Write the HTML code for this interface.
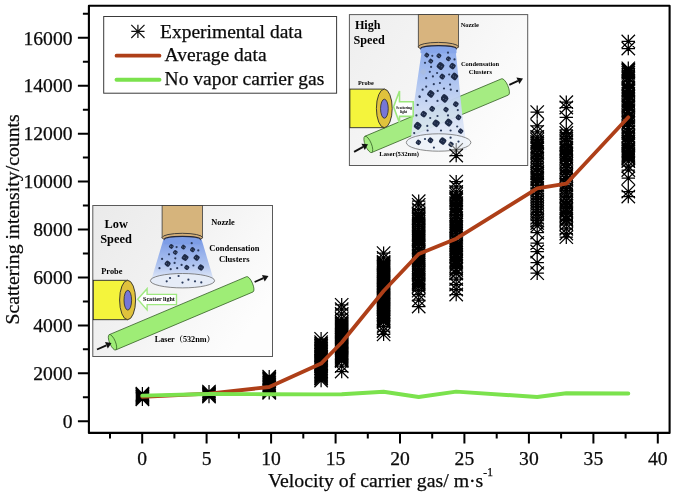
<!DOCTYPE html>
<html><head><meta charset="utf-8"><title>Scattering intensity vs velocity</title>
<style>html,body{margin:0;padding:0;background:#fff;}svg{display:block;}</style></head>
<body><svg width="675" height="495" viewBox="0 0 675 495">
<rect width="675" height="495" fill="#fff"/>
<defs>
<linearGradient id="bgL" x1="0" y1="0" x2="1" y2="0.6"><stop offset="0" stop-color="#eaeaea"/><stop offset="0.45" stop-color="#f1f1f1"/><stop offset="0.75" stop-color="#f8f8f8"/><stop offset="1" stop-color="#fdfdfd"/></linearGradient>
<linearGradient id="bgH" x1="0" y1="0" x2="1" y2="0.6"><stop offset="0" stop-color="#eeeeee"/><stop offset="0.45" stop-color="#f4f4f4"/><stop offset="0.75" stop-color="#f9f9f9"/><stop offset="1" stop-color="#fdfdfd"/></linearGradient>
<linearGradient id="sprL" x1="0" y1="0" x2="0" y2="1"><stop offset="0" stop-color="#7b9be6"/><stop offset="0.6" stop-color="#aec3ef"/><stop offset="1" stop-color="#e8eefa"/></linearGradient>
<linearGradient id="sprH" x1="0" y1="0" x2="0" y2="1"><stop offset="0" stop-color="#8eacec"/><stop offset="0.3" stop-color="#abc2f0"/><stop offset="0.6" stop-color="#ccd9f3" stop-opacity="0.94"/><stop offset="1" stop-color="#eef2fa" stop-opacity="0.9"/></linearGradient>
</defs>
<rect x="92.8" y="205.5" width="179.7" height="151" fill="url(#bgL)" stroke="#5a5a5a" stroke-width="1"/>
<text x="104.6" y="228.2" font-family="Liberation Serif, serif" font-weight="bold" font-size="12.4">Low</text>
<text x="100.2" y="243.2" font-family="Liberation Serif, serif" font-weight="bold" font-size="12.4">Speed</text>
<path d="M163.4 239.5 L201.6 239.5 L214 281 L151 281 Z" fill="url(#sprL)"/>
<rect x="162.1" y="205.5" width="40.3" height="32.3" fill="#d6b47c" stroke="#3a3a3a" stroke-width="0.8"/>
<ellipse cx="182.3" cy="237.6" rx="20.2" ry="4.3" fill="#d2ae78" stroke="#333" stroke-width="0.9"/>
<ellipse cx="182.4" cy="239.5" rx="18" ry="3.1" fill="#7d9de6" stroke="#22263a" stroke-width="1.1"/>
<rect x="164.2" y="239.6" width="36.4" height="4.6" fill="#7d9de6"/>
<ellipse cx="182.5" cy="280.7" rx="32.1" ry="7.2" fill="#e6ecf7" stroke="#6a6a6a" stroke-width="0.8"/>
<rect x="169.2" y="244.3" width="4.2" height="4.2" rx="1.3" transform="rotate(38 171.3 246.4)" fill="#1e2b48"/><circle cx="170.5" cy="246.2" r="0.45" fill="#8a9cc0"/><circle cx="172.1" cy="246.8" r="0.45" fill="#8a9cc0"/>
<rect x="181.3" y="245.0" width="4.2" height="4.2" rx="1.3" transform="rotate(38 183.4 247.1)" fill="#1e2b48"/><circle cx="182.6" cy="246.9" r="0.45" fill="#8a9cc0"/><circle cx="184.2" cy="247.5" r="0.45" fill="#8a9cc0"/>
<rect x="190.3" y="247.4" width="4.5" height="4.5" rx="1.4" transform="rotate(38 192.6 249.7)" fill="#1e2b48"/><circle cx="191.8" cy="249.4" r="0.45" fill="#8a9cc0"/><circle cx="193.4" cy="250.1" r="0.45" fill="#8a9cc0"/>
<rect x="173.2" y="250.3" width="4.2" height="4.2" rx="1.3" transform="rotate(38 175.3 252.4)" fill="#1e2b48"/><circle cx="174.5" cy="252.2" r="0.45" fill="#8a9cc0"/><circle cx="176.1" cy="252.8" r="0.45" fill="#8a9cc0"/>
<rect x="182.2" y="254.7" width="5.8" height="5.8" rx="1.7" transform="rotate(38 185.1 257.6)" fill="#1e2b48"/><circle cx="184.0" cy="257.3" r="0.45" fill="#8a9cc0"/><circle cx="186.2" cy="258.1" r="0.45" fill="#8a9cc0"/>
<rect x="194.0" y="255.0" width="5.3" height="5.3" rx="1.6" transform="rotate(38 196.6 257.6)" fill="#1e2b48"/><circle cx="195.6" cy="257.3" r="0.45" fill="#8a9cc0"/><circle cx="197.6" cy="258.1" r="0.45" fill="#8a9cc0"/>
<rect x="165.0" y="261.0" width="5.3" height="5.3" rx="1.6" transform="rotate(38 167.6 263.6)" fill="#1e2b48"/><circle cx="166.6" cy="263.3" r="0.45" fill="#8a9cc0"/><circle cx="168.6" cy="264.1" r="0.45" fill="#8a9cc0"/>
<rect x="184.5" y="265.2" width="4.5" height="4.5" rx="1.4" transform="rotate(38 186.8 267.5)" fill="#1e2b48"/><circle cx="186.0" cy="267.2" r="0.45" fill="#8a9cc0"/><circle cx="187.6" cy="267.9" r="0.45" fill="#8a9cc0"/>
<rect x="198.2" y="264.8" width="5.4" height="5.4" rx="1.6" transform="rotate(38 200.9 267.5)" fill="#1e2b48"/><circle cx="199.9" cy="267.2" r="0.45" fill="#8a9cc0"/><circle cx="201.9" cy="268.0" r="0.45" fill="#8a9cc0"/>
<circle cx="176.6" cy="247.1" r="1.1" fill="#2a3a5c"/>
<circle cx="198.3" cy="250.4" r="1.1" fill="#2a3a5c"/>
<circle cx="169.0" cy="254.3" r="1.1" fill="#2a3a5c"/>
<circle cx="175.3" cy="258.3" r="1.1" fill="#2a3a5c"/>
<circle cx="162.1" cy="258.9" r="1.1" fill="#2a3a5c"/>
<circle cx="174.6" cy="262.9" r="1.1" fill="#2a3a5c"/>
<circle cx="181.6" cy="264.9" r="1.1" fill="#2a3a5c"/>
<circle cx="193.4" cy="265.5" r="1.1" fill="#2a3a5c"/>
<circle cx="159.5" cy="268.2" r="1.1" fill="#2a3a5c"/>
<circle cx="170.7" cy="269.2" r="1.1" fill="#2a3a5c"/>
<circle cx="177.2" cy="268.2" r="1.1" fill="#2a3a5c"/>
<circle cx="178.6" cy="276.0" r="1.1" fill="#2a3a5c"/>
<circle cx="170.0" cy="278.0" r="1.1" fill="#2a3a5c"/>
<circle cx="166.7" cy="281.3" r="1.1" fill="#2a3a5c"/>
<circle cx="182.5" cy="282.6" r="1.1" fill="#2a3a5c"/>
<circle cx="188.4" cy="279.7" r="1.1" fill="#2a3a5c"/>
<circle cx="195.0" cy="281.3" r="1.1" fill="#2a3a5c"/>
<circle cx="201.3" cy="282.4" r="1.1" fill="#2a3a5c"/>
<circle cx="191.7" cy="243.2" r="1.1" fill="#2a3a5c"/>
<text x="211.3" y="224.7" font-family="Liberation Serif, serif" font-weight="bold" font-size="8.3">Nozzle</text>
<text x="209.3" y="250.5" font-family="Liberation Serif, serif" font-weight="bold" font-size="8.5">Condensation</text>
<text x="219" y="262" font-family="Liberation Serif, serif" font-weight="bold" font-size="8.6">Clusters</text>
<text x="101.3" y="273.5" font-family="Liberation Serif, serif" font-weight="bold" font-size="8.3">Probe</text>
<rect x="93.3" y="280.3" width="34.3" height="39.4" fill="#f4f43c" stroke="#2a2a2a" stroke-width="0.9"/>
<ellipse cx="127.6" cy="300" rx="8" ry="19.7" fill="#e0c23c" stroke="#2a2a2a" stroke-width="0.9"/>
<ellipse cx="127.8" cy="300.2" rx="3.8" ry="9.9" fill="#7676d6" stroke="#2a2a2a" stroke-width="0.8"/>
<path d="M137.7 299.3 L147.1 288.7 L147.1 294.4 L176.5 294.4 L176.5 304.6 L147.1 304.6 L147.1 309.9 Z" fill="#fff" stroke="#9fe880" stroke-width="1.4" stroke-linejoin="miter"/>
<text x="143" y="301.1" font-family="Liberation Serif, serif" font-weight="bold" font-size="6.1">Scatter light</text>
<g transform="translate(112.5 342.3) rotate(-22.90)"><path d="M0 -8.3 H149.0 A2.9050000000000002 8.3 0 0 1 149.0 8.3 H0 Z" fill="#9eed76" stroke="#2f5a1f" stroke-width="0.7"/><ellipse cx="0" cy="0" rx="2.9050000000000002" ry="8.3" fill="#9eed76" stroke="#2f5a1f" stroke-width="0.7"/></g>
<line x1="97.0" y1="349.5" x2="106.4" y2="345.3" stroke="#111" stroke-width="1.9"/><path d="M111.5 343.0L107.8 348.5L105.0 342.1Z" fill="#111"/>
<line x1="254.6" y1="282.0" x2="263.4" y2="278.2" stroke="#111" stroke-width="1.9"/><path d="M268.5 276.0L264.7 281.4L262.0 275.0Z" fill="#111"/>
<text x="154.7" y="342.1" font-family="Liberation Serif, Noto Serif CJK SC, serif" font-weight="bold" font-size="8.2">Laser（532nm）</text>
<rect x="349.4" y="14.6" width="178.3" height="150.9" fill="url(#bgH)" stroke="#5a5a5a" stroke-width="1"/>
<text x="354.9" y="28.8" font-family="Liberation Serif, serif" font-weight="bold" font-size="12.2">High</text>
<text x="353.5" y="44" font-family="Liberation Serif, serif" font-weight="bold" font-size="12.2">Speed</text>
<g transform="translate(368.3 144.4) rotate(-22.81)"><path d="M0 -8.8 H148.3 A3.08 8.8 0 0 1 148.3 8.8 H0 Z" fill="#a5ec82" stroke="#2f5a1f" stroke-width="0.7"/><ellipse cx="0" cy="0" rx="3.08" ry="8.8" fill="#a5ec82" stroke="#2f5a1f" stroke-width="0.7"/></g>
<path d="M422 49 L455.5 49 L462 112 L467 150 L410 150 L414.5 100 Z" fill="url(#sprH)"/>
<rect x="418.3" y="14.6" width="40.1" height="32.5" fill="#d8b47e" stroke="#3a3a3a" stroke-width="0.8"/>
<ellipse cx="438.35" cy="46.8" rx="20.05" ry="4.4" fill="#d2ae78" stroke="#333" stroke-width="0.9"/>
<ellipse cx="438.5" cy="48.7" rx="17.8" ry="3.1" fill="#86a6ea" stroke="#22263a" stroke-width="1.1"/>
<rect x="420.5" y="48.8" width="36" height="4.4" fill="#88a7ea"/>
<ellipse cx="438.6" cy="142.5" rx="32.3" ry="8.7" fill="#eef2f9" fill-opacity="0.8" stroke="#707070" stroke-width="0.8"/>
<rect x="420.7" y="69.3" width="5" height="5" rx="1.2" transform="rotate(40 423.2 71.8)" fill="#a9bde3"/>
<rect x="424.6" y="53.0" width="4.3" height="4.3" rx="1.3" transform="rotate(38 426.8 55.2)" fill="#1e2b48"/><circle cx="426.0" cy="55.0" r="0.45" fill="#8a9cc0"/><circle cx="427.6" cy="55.6" r="0.45" fill="#8a9cc0"/>
<rect x="436.7" y="53.6" width="4.3" height="4.3" rx="1.3" transform="rotate(38 438.9 55.8)" fill="#1e2b48"/><circle cx="438.1" cy="55.6" r="0.45" fill="#8a9cc0"/><circle cx="439.7" cy="56.2" r="0.45" fill="#8a9cc0"/>
<rect x="446.2" y="56.6" width="4.3" height="4.3" rx="1.3" transform="rotate(38 448.4 58.8)" fill="#1e2b48"/><circle cx="447.6" cy="58.6" r="0.45" fill="#8a9cc0"/><circle cx="449.2" cy="59.2" r="0.45" fill="#8a9cc0"/>
<rect x="428.6" y="59.0" width="4.3" height="4.3" rx="1.3" transform="rotate(38 430.8 61.2)" fill="#1e2b48"/><circle cx="430.0" cy="61.0" r="0.45" fill="#8a9cc0"/><circle cx="431.6" cy="61.6" r="0.45" fill="#8a9cc0"/>
<rect x="437.1" y="62.7" width="6.7" height="6.7" rx="2.0" transform="rotate(38 440.5 66.1)" fill="#1e2b48"/><circle cx="439.2" cy="65.7" r="0.45" fill="#8a9cc0"/><circle cx="441.8" cy="66.7" r="0.45" fill="#8a9cc0"/>
<rect x="449.7" y="63.3" width="5.6" height="5.6" rx="1.7" transform="rotate(38 452.5 66.1)" fill="#1e2b48"/><circle cx="451.4" cy="65.8" r="0.45" fill="#8a9cc0"/><circle cx="453.6" cy="66.6" r="0.45" fill="#8a9cc0"/>
<rect x="439.8" y="74.1" width="5.0" height="5.0" rx="1.5" transform="rotate(38 442.3 76.6)" fill="#1e2b48"/><circle cx="441.3" cy="76.3" r="0.45" fill="#8a9cc0"/><circle cx="443.3" cy="77.1" r="0.45" fill="#8a9cc0"/>
<rect x="451.3" y="73.2" width="6.4" height="6.4" rx="1.9" transform="rotate(38 454.5 76.4)" fill="#1e2b48"/><circle cx="453.3" cy="76.0" r="0.45" fill="#8a9cc0"/><circle cx="455.7" cy="77.0" r="0.45" fill="#8a9cc0"/>
<rect x="427.6" y="90.7" width="6.4" height="6.4" rx="1.9" transform="rotate(38 430.8 93.9)" fill="#1e2b48"/><circle cx="429.6" cy="93.5" r="0.45" fill="#8a9cc0"/><circle cx="432.0" cy="94.5" r="0.45" fill="#8a9cc0"/>
<rect x="441.4" y="94.6" width="6.0" height="6.0" rx="1.8" transform="rotate(38 444.4 97.6)" fill="#1e2b48"/><circle cx="443.3" cy="97.3" r="0.45" fill="#8a9cc0"/><circle cx="445.5" cy="98.2" r="0.45" fill="#8a9cc0"/>
<rect x="441.4" y="95.6" width="6.5" height="6.5" rx="2.0" transform="rotate(38 444.7 98.9)" fill="#1e2b48"/><circle cx="443.5" cy="98.5" r="0.45" fill="#8a9cc0"/><circle cx="445.9" cy="99.5" r="0.45" fill="#8a9cc0"/>
<rect x="453.3" y="101.7" width="5.0" height="5.0" rx="1.5" transform="rotate(38 455.8 104.2)" fill="#1e2b48"/><circle cx="454.8" cy="103.9" r="0.45" fill="#8a9cc0"/><circle cx="456.8" cy="104.7" r="0.45" fill="#8a9cc0"/>
<rect x="429.7" y="106.3" width="5.0" height="5.0" rx="1.5" transform="rotate(38 432.2 108.8)" fill="#1e2b48"/><circle cx="431.2" cy="108.5" r="0.45" fill="#8a9cc0"/><circle cx="433.2" cy="109.3" r="0.45" fill="#8a9cc0"/>
<rect x="443.7" y="107.2" width="4.7" height="4.7" rx="1.4" transform="rotate(38 446.0 109.5)" fill="#1e2b48"/><circle cx="445.1" cy="109.2" r="0.45" fill="#8a9cc0"/><circle cx="446.9" cy="109.9" r="0.45" fill="#8a9cc0"/>
<rect x="420.9" y="111.3" width="5.6" height="5.6" rx="1.7" transform="rotate(38 423.7 114.1)" fill="#1e2b48"/><circle cx="422.6" cy="113.8" r="0.45" fill="#8a9cc0"/><circle cx="424.8" cy="114.6" r="0.45" fill="#8a9cc0"/>
<rect x="456.0" y="114.8" width="5.0" height="5.0" rx="1.5" transform="rotate(38 458.5 117.3)" fill="#1e2b48"/><circle cx="457.5" cy="117.0" r="0.45" fill="#8a9cc0"/><circle cx="459.5" cy="117.8" r="0.45" fill="#8a9cc0"/>
<rect x="432.9" y="120.1" width="6.4" height="6.4" rx="1.9" transform="rotate(38 436.1 123.3)" fill="#1e2b48"/><circle cx="434.9" cy="122.9" r="0.45" fill="#8a9cc0"/><circle cx="437.3" cy="123.9" r="0.45" fill="#8a9cc0"/>
<rect x="445.2" y="119.2" width="6.7" height="6.7" rx="2.0" transform="rotate(38 448.6 122.6)" fill="#1e2b48"/><circle cx="447.3" cy="122.2" r="0.45" fill="#8a9cc0"/><circle cx="449.9" cy="123.2" r="0.45" fill="#8a9cc0"/>
<rect x="414.3" y="122.5" width="6.7" height="6.7" rx="2.0" transform="rotate(38 417.7 125.9)" fill="#1e2b48"/><circle cx="416.4" cy="125.5" r="0.45" fill="#8a9cc0"/><circle cx="419.0" cy="126.5" r="0.45" fill="#8a9cc0"/>
<rect x="458.4" y="128.8" width="4.7" height="4.7" rx="1.4" transform="rotate(38 460.7 131.1)" fill="#1e2b48"/><circle cx="459.8" cy="130.8" r="0.45" fill="#8a9cc0"/><circle cx="461.6" cy="131.5" r="0.45" fill="#8a9cc0"/>
<rect x="416.1" y="140.0" width="4.7" height="4.7" rx="1.4" transform="rotate(38 418.4 142.3)" fill="#1e2b48"/><circle cx="417.5" cy="142.0" r="0.45" fill="#8a9cc0"/><circle cx="419.3" cy="142.7" r="0.45" fill="#8a9cc0"/>
<rect x="428.0" y="137.8" width="5.0" height="5.0" rx="1.5" transform="rotate(38 430.5 140.3)" fill="#1e2b48"/><circle cx="429.5" cy="140.0" r="0.45" fill="#8a9cc0"/><circle cx="431.5" cy="140.8" r="0.45" fill="#8a9cc0"/>
<rect x="439.5" y="137.8" width="6.4" height="6.4" rx="1.9" transform="rotate(38 442.7 141.0)" fill="#1e2b48"/><circle cx="441.5" cy="140.6" r="0.45" fill="#8a9cc0"/><circle cx="443.9" cy="141.6" r="0.45" fill="#8a9cc0"/>
<rect x="448.7" y="142.0" width="4.7" height="4.7" rx="1.4" transform="rotate(38 451.0 144.3)" fill="#1e2b48"/><circle cx="450.1" cy="144.0" r="0.45" fill="#8a9cc0"/><circle cx="451.9" cy="144.7" r="0.45" fill="#8a9cc0"/>
<circle cx="432.3" cy="55.8" r="1.1" fill="#2a3a5c"/>
<circle cx="448.0" cy="52.7" r="1.1" fill="#2a3a5c"/>
<circle cx="454.5" cy="59.4" r="1.1" fill="#2a3a5c"/>
<circle cx="425.0" cy="62.8" r="1.1" fill="#2a3a5c"/>
<circle cx="431.1" cy="66.9" r="1.1" fill="#2a3a5c"/>
<circle cx="429.8" cy="71.8" r="1.1" fill="#2a3a5c"/>
<circle cx="437.1" cy="73.0" r="1.1" fill="#2a3a5c"/>
<circle cx="432.9" cy="76.4" r="1.1" fill="#2a3a5c"/>
<circle cx="426.2" cy="78.2" r="1.1" fill="#2a3a5c"/>
<circle cx="449.2" cy="74.5" r="1.1" fill="#2a3a5c"/>
<circle cx="433.8" cy="84.2" r="1.1" fill="#2a3a5c"/>
<circle cx="439.9" cy="83.0" r="1.1" fill="#2a3a5c"/>
<circle cx="450.1" cy="84.6" r="1.1" fill="#2a3a5c"/>
<circle cx="426.2" cy="86.7" r="1.1" fill="#2a3a5c"/>
<circle cx="444.0" cy="88.5" r="1.1" fill="#2a3a5c"/>
<circle cx="422.6" cy="89.7" r="1.1" fill="#2a3a5c"/>
<circle cx="437.7" cy="90.9" r="1.1" fill="#2a3a5c"/>
<circle cx="450.8" cy="89.7" r="1.1" fill="#2a3a5c"/>
<circle cx="457.1" cy="90.9" r="1.1" fill="#2a3a5c"/>
<circle cx="419.5" cy="96.4" r="1.1" fill="#2a3a5c"/>
<circle cx="419.7" cy="97.0" r="1.1" fill="#2a3a5c"/>
<circle cx="426.3" cy="100.9" r="1.1" fill="#2a3a5c"/>
<circle cx="437.5" cy="100.9" r="1.1" fill="#2a3a5c"/>
<circle cx="417.7" cy="104.9" r="1.1" fill="#2a3a5c"/>
<circle cx="457.8" cy="110.1" r="1.1" fill="#2a3a5c"/>
<circle cx="416.4" cy="115.4" r="1.1" fill="#2a3a5c"/>
<circle cx="430.2" cy="118.0" r="1.1" fill="#2a3a5c"/>
<circle cx="437.5" cy="116.0" r="1.1" fill="#2a3a5c"/>
<circle cx="448.0" cy="115.4" r="1.1" fill="#2a3a5c"/>
<circle cx="427.3" cy="125.9" r="1.1" fill="#2a3a5c"/>
<circle cx="457.2" cy="126.5" r="1.1" fill="#2a3a5c"/>
<circle cx="427.6" cy="130.5" r="1.1" fill="#2a3a5c"/>
<circle cx="441.0" cy="130.5" r="1.1" fill="#2a3a5c"/>
<circle cx="450.6" cy="130.5" r="1.1" fill="#2a3a5c"/>
<circle cx="414.2" cy="133.1" r="1.1" fill="#2a3a5c"/>
<circle cx="425.0" cy="139.0" r="1.1" fill="#2a3a5c"/>
<circle cx="450.6" cy="137.7" r="1.1" fill="#2a3a5c"/>
<circle cx="458.5" cy="141.6" r="1.1" fill="#2a3a5c"/>
<circle cx="433.9" cy="147.6" r="1.1" fill="#2a3a5c"/>
<text x="460.7" y="27" font-family="Liberation Serif, serif" font-weight="bold" font-size="6.4">Nozzle</text>
<text x="460.9" y="66.2" font-family="Liberation Serif, serif" font-weight="bold" font-size="6.5">Condensation</text>
<text x="468.8" y="74.1" font-family="Liberation Serif, serif" font-weight="bold" font-size="6.5">Clusters</text>
<text x="358.1" y="84.5" font-family="Liberation Serif, serif" font-weight="bold" font-size="6.2">Probe</text>
<rect x="349.9" y="89.1" width="34.4" height="38.6" fill="#f4f43c" stroke="#2a2a2a" stroke-width="0.9"/>
<ellipse cx="384.3" cy="108.4" rx="7.9" ry="19.3" fill="#e0c23c" stroke="#2a2a2a" stroke-width="0.9"/>
<ellipse cx="384.4" cy="108.7" rx="3.85" ry="9.5" fill="#7676d6" stroke="#2a2a2a" stroke-width="0.8"/>
<path d="M393.6 106.8 L399.5 91 L399.5 101.8 L413.2 101.8 L413.2 116.4 L399.5 116.4 L399.5 123 Z" fill="#fff" stroke="#9ce77c" stroke-width="1.6"/>
<text x="396.1" y="108.8" font-family="Liberation Serif, serif" font-weight="bold" font-size="3.6">Scattering</text>
<text x="400" y="113.2" font-family="Liberation Serif, serif" font-weight="bold" font-size="3.6">light</text>
<line x1="354.1" y1="151.8" x2="363.1" y2="146.9" stroke="#111" stroke-width="1.9"/><path d="M368.0 144.2L364.8 150.0L361.4 143.8Z" fill="#111"/>
<line x1="509.3" y1="84.8" x2="517.9" y2="80.8" stroke="#111" stroke-width="1.9"/><path d="M523.0 78.4L519.4 83.9L516.4 77.6Z" fill="#111"/>
<text x="379.3" y="155.9" font-family="Liberation Serif, serif" font-weight="bold" font-size="6.6">Laser(532nm)</text>
<rect x="103.7" y="16.5" width="232.9" height="76.7" fill="#fff" stroke="#3a3a3a" stroke-width="1"/>
<path d="M131.3 31.4h13.2M137.9 24.8v13.2M131.3 24.8l13.2 13.2M131.3 38.0l13.2 -13.2" stroke="#111" stroke-width="1.2" fill="none"/>
<line x1="116.5" y1="55.7" x2="159.5" y2="55.7" stroke="#ae3f18" stroke-width="3.7" stroke-linecap="round"/>
<line x1="116.5" y1="79.7" x2="159.5" y2="79.7" stroke="#7be24d" stroke-width="3.9" stroke-linecap="round"/>
<text x="160" y="37.6" font-family="Liberation Serif, serif" font-size="19.5" fill="#0a0a0a" stroke="#0a0a0a" stroke-width="0.25">Experimental data</text>
<text x="164.6" y="61.3" font-family="Liberation Serif, serif" font-size="19.5" fill="#0a0a0a" stroke="#0a0a0a" stroke-width="0.25">Average data</text>
<text x="164.6" y="85.3" font-family="Liberation Serif, serif" font-size="19.5" fill="#0a0a0a" stroke="#0a0a0a" stroke-width="0.25">No vapor carrier gas</text>
<path d="M449.5 149.8h13.4M456.2 143.1v13.4M449.5 143.1l13.4 13.4M449.5 156.5l13.4 -13.4" stroke="#777" stroke-width="1.1" fill="none"/>
<path d="M135.7 393.7h13.4M142.4 387.0v13.4M135.7 387.0l13.4 13.4M135.7 400.4l13.4 -13.4M135.7 394.6h13.4M142.4 387.9v13.4M135.7 387.9l13.4 13.4M135.7 401.3l13.4 -13.4M135.7 395.3h13.4M142.4 388.6v13.4M135.7 388.6l13.4 13.4M135.7 402.0l13.4 -13.4M135.7 396.4h13.4M142.4 389.7v13.4M135.7 389.7l13.4 13.4M135.7 403.1l13.4 -13.4M135.7 397.1h13.4M142.4 390.4v13.4M135.7 390.4l13.4 13.4M135.7 403.8l13.4 -13.4M135.7 398.1h13.4M142.4 391.4v13.4M135.7 391.4l13.4 13.4M135.7 404.8l13.4 -13.4M135.7 398.9h13.4M142.4 392.2v13.4M135.7 392.2l13.4 13.4M135.7 405.6l13.4 -13.4M135.7 399.3h13.4M142.4 392.6v13.4M135.7 392.6l13.4 13.4M135.7 406.0l13.4 -13.4M202.3 391.6h13.4M209.0 384.9v13.4M202.3 384.9l13.4 13.4M202.3 398.3l13.4 -13.4M202.3 392.6h13.4M209.0 385.9v13.4M202.3 385.9l13.4 13.4M202.3 399.3l13.4 -13.4M202.3 393.3h13.4M209.0 386.6v13.4M202.3 386.6l13.4 13.4M202.3 400.0l13.4 -13.4M202.3 394.2h13.4M209.0 387.5v13.4M202.3 387.5l13.4 13.4M202.3 400.9l13.4 -13.4M202.3 394.9h13.4M209.0 388.2v13.4M202.3 388.2l13.4 13.4M202.3 401.6l13.4 -13.4M202.3 395.7h13.4M209.0 389.0v13.4M202.3 389.0l13.4 13.4M202.3 402.4l13.4 -13.4M202.3 396.5h13.4M209.0 389.8v13.4M202.3 389.8l13.4 13.4M202.3 403.2l13.4 -13.4M262.5 376.7h13.4M269.2 370.0v13.4M262.5 370.0l13.4 13.4M262.5 383.4l13.4 -13.4M262.5 378.2h13.4M269.2 371.5v13.4M262.5 371.5l13.4 13.4M262.5 384.9l13.4 -13.4M262.5 379.1h13.4M269.2 372.4v13.4M262.5 372.4l13.4 13.4M262.5 385.8l13.4 -13.4M262.5 380.0h13.4M269.2 373.3v13.4M262.5 373.3l13.4 13.4M262.5 386.7l13.4 -13.4M262.5 381.3h13.4M269.2 374.6v13.4M262.5 374.6l13.4 13.4M262.5 388.0l13.4 -13.4M262.5 382.9h13.4M269.2 376.2v13.4M262.5 376.2l13.4 13.4M262.5 389.6l13.4 -13.4M262.5 384.2h13.4M269.2 377.5v13.4M262.5 377.5l13.4 13.4M262.5 390.9l13.4 -13.4M262.5 385.3h13.4M269.2 378.6v13.4M262.5 378.6l13.4 13.4M262.5 392.0l13.4 -13.4M262.5 386.9h13.4M269.2 380.2v13.4M262.5 380.2l13.4 13.4M262.5 393.6l13.4 -13.4M262.5 387.7h13.4M269.2 381.0v13.4M262.5 381.0l13.4 13.4M262.5 394.4l13.4 -13.4M262.5 389.2h13.4M269.2 382.5v13.4M262.5 382.5l13.4 13.4M262.5 395.9l13.4 -13.4M262.5 390.2h13.4M269.2 383.5v13.4M262.5 383.5l13.4 13.4M262.5 396.9l13.4 -13.4M262.5 391.1h13.4M269.2 384.4v13.4M262.5 384.4l13.4 13.4M262.5 397.8l13.4 -13.4M262.5 392.0h13.4M269.2 385.3v13.4M262.5 385.3l13.4 13.4M262.5 398.7l13.4 -13.4M262.5 392.8h13.4M269.2 386.1v13.4M262.5 386.1l13.4 13.4M262.5 399.5l13.4 -13.4M314.4 338.8h13.4M321.1 332.1v13.4M314.4 332.1l13.4 13.4M314.4 345.5l13.4 -13.4M314.4 342.2h13.4M321.1 335.5v13.4M314.4 335.5l13.4 13.4M314.4 348.9l13.4 -13.4M314.4 344.0h13.4M321.1 337.3v13.4M314.4 337.3l13.4 13.4M314.4 350.7l13.4 -13.4M314.4 345.3h13.4M321.1 338.6v13.4M314.4 338.6l13.4 13.4M314.4 352.0l13.4 -13.4M314.4 346.0h13.4M321.1 339.3v13.4M314.4 339.3l13.4 13.4M314.4 352.7l13.4 -13.4M314.4 347.1h13.4M321.1 340.4v13.4M314.4 340.4l13.4 13.4M314.4 353.8l13.4 -13.4M314.4 348.2h13.4M321.1 341.5v13.4M314.4 341.5l13.4 13.4M314.4 354.9l13.4 -13.4M314.4 349.1h13.4M321.1 342.4v13.4M314.4 342.4l13.4 13.4M314.4 355.8l13.4 -13.4M314.4 350.1h13.4M321.1 343.4v13.4M314.4 343.4l13.4 13.4M314.4 356.8l13.4 -13.4M314.4 350.8h13.4M321.1 344.1v13.4M314.4 344.1l13.4 13.4M314.4 357.5l13.4 -13.4M314.4 351.4h13.4M321.1 344.7v13.4M314.4 344.7l13.4 13.4M314.4 358.1l13.4 -13.4M314.4 352.2h13.4M321.1 345.5v13.4M314.4 345.5l13.4 13.4M314.4 358.9l13.4 -13.4M314.4 353.3h13.4M321.1 346.6v13.4M314.4 346.6l13.4 13.4M314.4 360.0l13.4 -13.4M314.4 354.3h13.4M321.1 347.6v13.4M314.4 347.6l13.4 13.4M314.4 361.0l13.4 -13.4M314.4 355.1h13.4M321.1 348.4v13.4M314.4 348.4l13.4 13.4M314.4 361.8l13.4 -13.4M314.4 356.2h13.4M321.1 349.5v13.4M314.4 349.5l13.4 13.4M314.4 362.9l13.4 -13.4M314.4 357.1h13.4M321.1 350.4v13.4M314.4 350.4l13.4 13.4M314.4 363.8l13.4 -13.4M314.4 358.0h13.4M321.1 351.3v13.4M314.4 351.3l13.4 13.4M314.4 364.7l13.4 -13.4M314.4 359.2h13.4M321.1 352.5v13.4M314.4 352.5l13.4 13.4M314.4 365.9l13.4 -13.4M314.4 360.4h13.4M321.1 353.7v13.4M314.4 353.7l13.4 13.4M314.4 367.1l13.4 -13.4M314.4 361.2h13.4M321.1 354.5v13.4M314.4 354.5l13.4 13.4M314.4 367.9l13.4 -13.4M314.4 362.2h13.4M321.1 355.5v13.4M314.4 355.5l13.4 13.4M314.4 368.9l13.4 -13.4M314.4 363.3h13.4M321.1 356.6v13.4M314.4 356.6l13.4 13.4M314.4 370.0l13.4 -13.4M314.4 364.6h13.4M321.1 357.9v13.4M314.4 357.9l13.4 13.4M314.4 371.3l13.4 -13.4M314.4 365.7h13.4M321.1 359.0v13.4M314.4 359.0l13.4 13.4M314.4 372.4l13.4 -13.4M314.4 366.6h13.4M321.1 359.9v13.4M314.4 359.9l13.4 13.4M314.4 373.3l13.4 -13.4M314.4 367.9h13.4M321.1 361.2v13.4M314.4 361.2l13.4 13.4M314.4 374.6l13.4 -13.4M314.4 368.6h13.4M321.1 361.9v13.4M314.4 361.9l13.4 13.4M314.4 375.3l13.4 -13.4M314.4 369.6h13.4M321.1 362.9v13.4M314.4 362.9l13.4 13.4M314.4 376.3l13.4 -13.4M314.4 370.8h13.4M321.1 364.1v13.4M314.4 364.1l13.4 13.4M314.4 377.5l13.4 -13.4M314.4 371.5h13.4M321.1 364.8v13.4M314.4 364.8l13.4 13.4M314.4 378.2l13.4 -13.4M314.4 372.5h13.4M321.1 365.8v13.4M314.4 365.8l13.4 13.4M314.4 379.2l13.4 -13.4M314.4 373.1h13.4M321.1 366.4v13.4M314.4 366.4l13.4 13.4M314.4 379.8l13.4 -13.4M314.4 374.3h13.4M321.1 367.6v13.4M314.4 367.6l13.4 13.4M314.4 381.0l13.4 -13.4M314.4 375.5h13.4M321.1 368.8v13.4M314.4 368.8l13.4 13.4M314.4 382.2l13.4 -13.4M314.4 376.5h13.4M321.1 369.8v13.4M314.4 369.8l13.4 13.4M314.4 383.2l13.4 -13.4M314.4 377.8h13.4M321.1 371.1v13.4M314.4 371.1l13.4 13.4M314.4 384.5l13.4 -13.4M314.4 378.5h13.4M321.1 371.8v13.4M314.4 371.8l13.4 13.4M314.4 385.2l13.4 -13.4M314.4 380.5h13.4M321.1 373.8v13.4M314.4 373.8l13.4 13.4M314.4 387.2l13.4 -13.4M335.0 304.8h13.4M341.7 298.1v13.4M335.0 298.1l13.4 13.4M335.0 311.5l13.4 -13.4M335.0 309.2h13.4M341.7 302.5v13.4M335.0 302.5l13.4 13.4M335.0 315.9l13.4 -13.4M335.0 314.0h13.4M341.7 307.3v13.4M335.0 307.3l13.4 13.4M335.0 320.7l13.4 -13.4M335.0 318.8h13.4M341.7 312.1v13.4M335.0 312.1l13.4 13.4M335.0 325.5l13.4 -13.4M335.0 322.0h13.4M341.7 315.3v13.4M335.0 315.3l13.4 13.4M335.0 328.7l13.4 -13.4M335.0 323.2h13.4M341.7 316.5v13.4M335.0 316.5l13.4 13.4M335.0 329.9l13.4 -13.4M335.0 324.2h13.4M341.7 317.5v13.4M335.0 317.5l13.4 13.4M335.0 330.9l13.4 -13.4M335.0 325.3h13.4M341.7 318.6v13.4M335.0 318.6l13.4 13.4M335.0 332.0l13.4 -13.4M335.0 326.3h13.4M341.7 319.6v13.4M335.0 319.6l13.4 13.4M335.0 333.0l13.4 -13.4M335.0 327.5h13.4M341.7 320.8v13.4M335.0 320.8l13.4 13.4M335.0 334.2l13.4 -13.4M335.0 328.9h13.4M341.7 322.2v13.4M335.0 322.2l13.4 13.4M335.0 335.6l13.4 -13.4M335.0 329.9h13.4M341.7 323.2v13.4M335.0 323.2l13.4 13.4M335.0 336.6l13.4 -13.4M335.0 331.0h13.4M341.7 324.3v13.4M335.0 324.3l13.4 13.4M335.0 337.7l13.4 -13.4M335.0 331.6h13.4M341.7 324.9v13.4M335.0 324.9l13.4 13.4M335.0 338.3l13.4 -13.4M335.0 332.8h13.4M341.7 326.1v13.4M335.0 326.1l13.4 13.4M335.0 339.5l13.4 -13.4M335.0 333.9h13.4M341.7 327.2v13.4M335.0 327.2l13.4 13.4M335.0 340.6l13.4 -13.4M335.0 335.3h13.4M341.7 328.6v13.4M335.0 328.6l13.4 13.4M335.0 342.0l13.4 -13.4M335.0 336.6h13.4M341.7 329.9v13.4M335.0 329.9l13.4 13.4M335.0 343.3l13.4 -13.4M335.0 337.4h13.4M341.7 330.7v13.4M335.0 330.7l13.4 13.4M335.0 344.1l13.4 -13.4M335.0 338.3h13.4M341.7 331.6v13.4M335.0 331.6l13.4 13.4M335.0 345.0l13.4 -13.4M335.0 339.4h13.4M341.7 332.7v13.4M335.0 332.7l13.4 13.4M335.0 346.1l13.4 -13.4M335.0 340.1h13.4M341.7 333.4v13.4M335.0 333.4l13.4 13.4M335.0 346.8l13.4 -13.4M335.0 341.0h13.4M341.7 334.3v13.4M335.0 334.3l13.4 13.4M335.0 347.7l13.4 -13.4M335.0 341.8h13.4M341.7 335.1v13.4M335.0 335.1l13.4 13.4M335.0 348.5l13.4 -13.4M335.0 342.5h13.4M341.7 335.8v13.4M335.0 335.8l13.4 13.4M335.0 349.2l13.4 -13.4M335.0 343.1h13.4M341.7 336.4v13.4M335.0 336.4l13.4 13.4M335.0 349.8l13.4 -13.4M335.0 344.3h13.4M341.7 337.6v13.4M335.0 337.6l13.4 13.4M335.0 351.0l13.4 -13.4M335.0 345.0h13.4M341.7 338.3v13.4M335.0 338.3l13.4 13.4M335.0 351.7l13.4 -13.4M335.0 345.8h13.4M341.7 339.1v13.4M335.0 339.1l13.4 13.4M335.0 352.5l13.4 -13.4M335.0 346.7h13.4M341.7 340.0v13.4M335.0 340.0l13.4 13.4M335.0 353.4l13.4 -13.4M335.0 348.0h13.4M341.7 341.3v13.4M335.0 341.3l13.4 13.4M335.0 354.7l13.4 -13.4M335.0 348.7h13.4M341.7 342.0v13.4M335.0 342.0l13.4 13.4M335.0 355.4l13.4 -13.4M335.0 349.7h13.4M341.7 343.0v13.4M335.0 343.0l13.4 13.4M335.0 356.4l13.4 -13.4M335.0 350.7h13.4M341.7 344.0v13.4M335.0 344.0l13.4 13.4M335.0 357.4l13.4 -13.4M335.0 352.0h13.4M341.7 345.3v13.4M335.0 345.3l13.4 13.4M335.0 358.7l13.4 -13.4M335.0 353.3h13.4M341.7 346.6v13.4M335.0 346.6l13.4 13.4M335.0 360.0l13.4 -13.4M335.0 354.6h13.4M341.7 347.9v13.4M335.0 347.9l13.4 13.4M335.0 361.3l13.4 -13.4M335.0 355.4h13.4M341.7 348.7v13.4M335.0 348.7l13.4 13.4M335.0 362.1l13.4 -13.4M335.0 356.3h13.4M341.7 349.6v13.4M335.0 349.6l13.4 13.4M335.0 363.0l13.4 -13.4M335.0 357.2h13.4M341.7 350.5v13.4M335.0 350.5l13.4 13.4M335.0 363.9l13.4 -13.4M335.0 358.5h13.4M341.7 351.8v13.4M335.0 351.8l13.4 13.4M335.0 365.2l13.4 -13.4M335.0 359.9h13.4M341.7 353.2v13.4M335.0 353.2l13.4 13.4M335.0 366.6l13.4 -13.4M335.0 360.6h13.4M341.7 353.9v13.4M335.0 353.9l13.4 13.4M335.0 367.3l13.4 -13.4M335.0 361.0h13.4M341.7 354.3v13.4M335.0 354.3l13.4 13.4M335.0 367.7l13.4 -13.4M335.0 366.0h13.4M341.7 359.3v13.4M335.0 359.3l13.4 13.4M335.0 372.7l13.4 -13.4M335.0 371.6h13.4M341.7 364.9v13.4M335.0 364.9l13.4 13.4M335.0 378.3l13.4 -13.4M376.9 253.1h13.4M383.6 246.4v13.4M376.9 246.4l13.4 13.4M376.9 259.8l13.4 -13.4M376.9 257.8h13.4M383.6 251.1v13.4M376.9 251.1l13.4 13.4M376.9 264.5l13.4 -13.4M376.9 262.0h13.4M383.6 255.3v13.4M376.9 255.3l13.4 13.4M376.9 268.7l13.4 -13.4M376.9 262.8h13.4M383.6 256.1v13.4M376.9 256.1l13.4 13.4M376.9 269.5l13.4 -13.4M376.9 263.6h13.4M383.6 256.9v13.4M376.9 256.9l13.4 13.4M376.9 270.3l13.4 -13.4M376.9 264.6h13.4M383.6 257.9v13.4M376.9 257.9l13.4 13.4M376.9 271.3l13.4 -13.4M376.9 265.6h13.4M383.6 258.9v13.4M376.9 258.9l13.4 13.4M376.9 272.3l13.4 -13.4M376.9 266.4h13.4M383.6 259.7v13.4M376.9 259.7l13.4 13.4M376.9 273.1l13.4 -13.4M376.9 267.0h13.4M383.6 260.3v13.4M376.9 260.3l13.4 13.4M376.9 273.7l13.4 -13.4M376.9 268.0h13.4M383.6 261.3v13.4M376.9 261.3l13.4 13.4M376.9 274.7l13.4 -13.4M376.9 268.9h13.4M383.6 262.2v13.4M376.9 262.2l13.4 13.4M376.9 275.6l13.4 -13.4M376.9 269.9h13.4M383.6 263.2v13.4M376.9 263.2l13.4 13.4M376.9 276.6l13.4 -13.4M376.9 271.3h13.4M383.6 264.6v13.4M376.9 264.6l13.4 13.4M376.9 278.0l13.4 -13.4M376.9 272.4h13.4M383.6 265.7v13.4M376.9 265.7l13.4 13.4M376.9 279.1l13.4 -13.4M376.9 273.5h13.4M383.6 266.8v13.4M376.9 266.8l13.4 13.4M376.9 280.2l13.4 -13.4M376.9 274.5h13.4M383.6 267.8v13.4M376.9 267.8l13.4 13.4M376.9 281.2l13.4 -13.4M376.9 275.7h13.4M383.6 269.0v13.4M376.9 269.0l13.4 13.4M376.9 282.4l13.4 -13.4M376.9 276.3h13.4M383.6 269.6v13.4M376.9 269.6l13.4 13.4M376.9 283.0l13.4 -13.4M376.9 277.7h13.4M383.6 271.0v13.4M376.9 271.0l13.4 13.4M376.9 284.4l13.4 -13.4M376.9 278.9h13.4M383.6 272.2v13.4M376.9 272.2l13.4 13.4M376.9 285.6l13.4 -13.4M376.9 280.2h13.4M383.6 273.5v13.4M376.9 273.5l13.4 13.4M376.9 286.9l13.4 -13.4M376.9 281.4h13.4M383.6 274.7v13.4M376.9 274.7l13.4 13.4M376.9 288.1l13.4 -13.4M376.9 282.3h13.4M383.6 275.6v13.4M376.9 275.6l13.4 13.4M376.9 289.0l13.4 -13.4M376.9 283.2h13.4M383.6 276.5v13.4M376.9 276.5l13.4 13.4M376.9 289.9l13.4 -13.4M376.9 283.9h13.4M383.6 277.2v13.4M376.9 277.2l13.4 13.4M376.9 290.6l13.4 -13.4M376.9 285.0h13.4M383.6 278.3v13.4M376.9 278.3l13.4 13.4M376.9 291.7l13.4 -13.4M376.9 285.7h13.4M383.6 279.0v13.4M376.9 279.0l13.4 13.4M376.9 292.4l13.4 -13.4M376.9 286.3h13.4M383.6 279.6v13.4M376.9 279.6l13.4 13.4M376.9 293.0l13.4 -13.4M376.9 287.1h13.4M383.6 280.4v13.4M376.9 280.4l13.4 13.4M376.9 293.8l13.4 -13.4M376.9 287.8h13.4M383.6 281.1v13.4M376.9 281.1l13.4 13.4M376.9 294.5l13.4 -13.4M376.9 288.7h13.4M383.6 282.0v13.4M376.9 282.0l13.4 13.4M376.9 295.4l13.4 -13.4M376.9 289.4h13.4M383.6 282.7v13.4M376.9 282.7l13.4 13.4M376.9 296.1l13.4 -13.4M376.9 290.0h13.4M383.6 283.3v13.4M376.9 283.3l13.4 13.4M376.9 296.7l13.4 -13.4M376.9 290.7h13.4M383.6 284.0v13.4M376.9 284.0l13.4 13.4M376.9 297.4l13.4 -13.4M376.9 291.4h13.4M383.6 284.7v13.4M376.9 284.7l13.4 13.4M376.9 298.1l13.4 -13.4M376.9 292.2h13.4M383.6 285.5v13.4M376.9 285.5l13.4 13.4M376.9 298.9l13.4 -13.4M376.9 292.9h13.4M383.6 286.2v13.4M376.9 286.2l13.4 13.4M376.9 299.6l13.4 -13.4M376.9 294.2h13.4M383.6 287.5v13.4M376.9 287.5l13.4 13.4M376.9 300.9l13.4 -13.4M376.9 295.3h13.4M383.6 288.6v13.4M376.9 288.6l13.4 13.4M376.9 302.0l13.4 -13.4M376.9 296.0h13.4M383.6 289.3v13.4M376.9 289.3l13.4 13.4M376.9 302.7l13.4 -13.4M376.9 296.8h13.4M383.6 290.1v13.4M376.9 290.1l13.4 13.4M376.9 303.5l13.4 -13.4M376.9 297.7h13.4M383.6 291.0v13.4M376.9 291.0l13.4 13.4M376.9 304.4l13.4 -13.4M376.9 298.5h13.4M383.6 291.8v13.4M376.9 291.8l13.4 13.4M376.9 305.2l13.4 -13.4M376.9 299.2h13.4M383.6 292.5v13.4M376.9 292.5l13.4 13.4M376.9 305.9l13.4 -13.4M376.9 300.5h13.4M383.6 293.8v13.4M376.9 293.8l13.4 13.4M376.9 307.2l13.4 -13.4M376.9 301.9h13.4M383.6 295.2v13.4M376.9 295.2l13.4 13.4M376.9 308.6l13.4 -13.4M376.9 302.9h13.4M383.6 296.2v13.4M376.9 296.2l13.4 13.4M376.9 309.6l13.4 -13.4M376.9 303.9h13.4M383.6 297.2v13.4M376.9 297.2l13.4 13.4M376.9 310.6l13.4 -13.4M376.9 304.5h13.4M383.6 297.8v13.4M376.9 297.8l13.4 13.4M376.9 311.2l13.4 -13.4M376.9 305.2h13.4M383.6 298.5v13.4M376.9 298.5l13.4 13.4M376.9 311.9l13.4 -13.4M376.9 306.1h13.4M383.6 299.4v13.4M376.9 299.4l13.4 13.4M376.9 312.8l13.4 -13.4M376.9 306.9h13.4M383.6 300.2v13.4M376.9 300.2l13.4 13.4M376.9 313.6l13.4 -13.4M376.9 308.2h13.4M383.6 301.5v13.4M376.9 301.5l13.4 13.4M376.9 314.9l13.4 -13.4M376.9 308.9h13.4M383.6 302.2v13.4M376.9 302.2l13.4 13.4M376.9 315.6l13.4 -13.4M376.9 309.5h13.4M383.6 302.8v13.4M376.9 302.8l13.4 13.4M376.9 316.2l13.4 -13.4M376.9 310.9h13.4M383.6 304.2v13.4M376.9 304.2l13.4 13.4M376.9 317.6l13.4 -13.4M376.9 311.9h13.4M383.6 305.2v13.4M376.9 305.2l13.4 13.4M376.9 318.6l13.4 -13.4M376.9 312.6h13.4M383.6 305.9v13.4M376.9 305.9l13.4 13.4M376.9 319.3l13.4 -13.4M376.9 313.7h13.4M383.6 307.0v13.4M376.9 307.0l13.4 13.4M376.9 320.4l13.4 -13.4M376.9 314.3h13.4M383.6 307.6v13.4M376.9 307.6l13.4 13.4M376.9 321.0l13.4 -13.4M376.9 315.3h13.4M383.6 308.6v13.4M376.9 308.6l13.4 13.4M376.9 322.0l13.4 -13.4M376.9 316.7h13.4M383.6 310.0v13.4M376.9 310.0l13.4 13.4M376.9 323.4l13.4 -13.4M376.9 318.0h13.4M383.6 311.3v13.4M376.9 311.3l13.4 13.4M376.9 324.7l13.4 -13.4M376.9 319.1h13.4M383.6 312.4v13.4M376.9 312.4l13.4 13.4M376.9 325.8l13.4 -13.4M376.9 319.9h13.4M383.6 313.2v13.4M376.9 313.2l13.4 13.4M376.9 326.6l13.4 -13.4M376.9 320.8h13.4M383.6 314.1v13.4M376.9 314.1l13.4 13.4M376.9 327.5l13.4 -13.4M376.9 321.6h13.4M383.6 314.9v13.4M376.9 314.9l13.4 13.4M376.9 328.3l13.4 -13.4M376.9 322.0h13.4M383.6 315.3v13.4M376.9 315.3l13.4 13.4M376.9 328.7l13.4 -13.4M376.9 326.7h13.4M383.6 320.0v13.4M376.9 320.0l13.4 13.4M376.9 333.4l13.4 -13.4M376.9 331.0h13.4M383.6 324.3v13.4M376.9 324.3l13.4 13.4M376.9 337.7l13.4 -13.4M376.9 334.4h13.4M383.6 327.7v13.4M376.9 327.7l13.4 13.4M376.9 341.1l13.4 -13.4M412.0 201.2h13.4M418.7 194.5v13.4M412.0 194.5l13.4 13.4M412.0 207.9l13.4 -13.4M412.0 204.8h13.4M418.7 198.1v13.4M412.0 198.1l13.4 13.4M412.0 211.5l13.4 -13.4M412.0 209.3h13.4M418.7 202.6v13.4M412.0 202.6l13.4 13.4M412.0 216.0l13.4 -13.4M412.0 213.3h13.4M418.7 206.6v13.4M412.0 206.6l13.4 13.4M412.0 220.0l13.4 -13.4M412.0 215.0h13.4M418.7 208.3v13.4M412.0 208.3l13.4 13.4M412.0 221.7l13.4 -13.4M412.0 217.1h13.4M418.7 210.4v13.4M412.0 210.4l13.4 13.4M412.0 223.8l13.4 -13.4M412.0 218.5h13.4M418.7 211.8v13.4M412.0 211.8l13.4 13.4M412.0 225.2l13.4 -13.4M412.0 219.7h13.4M418.7 213.0v13.4M412.0 213.0l13.4 13.4M412.0 226.4l13.4 -13.4M412.0 221.8h13.4M418.7 215.1v13.4M412.0 215.1l13.4 13.4M412.0 228.5l13.4 -13.4M412.0 224.2h13.4M418.7 217.5v13.4M412.0 217.5l13.4 13.4M412.0 230.9l13.4 -13.4M412.0 226.4h13.4M418.7 219.7v13.4M412.0 219.7l13.4 13.4M412.0 233.1l13.4 -13.4M412.0 228.5h13.4M418.7 221.8v13.4M412.0 221.8l13.4 13.4M412.0 235.2l13.4 -13.4M412.0 230.6h13.4M418.7 223.9v13.4M412.0 223.9l13.4 13.4M412.0 237.3l13.4 -13.4M412.0 232.6h13.4M418.7 225.9v13.4M412.0 225.9l13.4 13.4M412.0 239.3l13.4 -13.4M412.0 233.9h13.4M418.7 227.2v13.4M412.0 227.2l13.4 13.4M412.0 240.6l13.4 -13.4M412.0 235.5h13.4M418.7 228.8v13.4M412.0 228.8l13.4 13.4M412.0 242.2l13.4 -13.4M412.0 237.0h13.4M418.7 230.3v13.4M412.0 230.3l13.4 13.4M412.0 243.7l13.4 -13.4M412.0 237.9h13.4M418.7 231.2v13.4M412.0 231.2l13.4 13.4M412.0 244.6l13.4 -13.4M412.0 238.9h13.4M418.7 232.2v13.4M412.0 232.2l13.4 13.4M412.0 245.6l13.4 -13.4M412.0 240.2h13.4M418.7 233.5v13.4M412.0 233.5l13.4 13.4M412.0 246.9l13.4 -13.4M412.0 241.5h13.4M418.7 234.8v13.4M412.0 234.8l13.4 13.4M412.0 248.2l13.4 -13.4M412.0 243.4h13.4M418.7 236.7v13.4M412.0 236.7l13.4 13.4M412.0 250.1l13.4 -13.4M412.0 245.7h13.4M418.7 239.0v13.4M412.0 239.0l13.4 13.4M412.0 252.4l13.4 -13.4M412.0 247.3h13.4M418.7 240.6v13.4M412.0 240.6l13.4 13.4M412.0 254.0l13.4 -13.4M412.0 249.6h13.4M418.7 242.9v13.4M412.0 242.9l13.4 13.4M412.0 256.3l13.4 -13.4M412.0 252.0h13.4M418.7 245.3v13.4M412.0 245.3l13.4 13.4M412.0 258.7l13.4 -13.4M412.0 254.3h13.4M418.7 247.6v13.4M412.0 247.6l13.4 13.4M412.0 261.0l13.4 -13.4M412.0 255.8h13.4M418.7 249.1v13.4M412.0 249.1l13.4 13.4M412.0 262.5l13.4 -13.4M412.0 257.0h13.4M418.7 250.3v13.4M412.0 250.3l13.4 13.4M412.0 263.7l13.4 -13.4M412.0 258.2h13.4M418.7 251.5v13.4M412.0 251.5l13.4 13.4M412.0 264.9l13.4 -13.4M412.0 259.4h13.4M418.7 252.7v13.4M412.0 252.7l13.4 13.4M412.0 266.1l13.4 -13.4M412.0 260.6h13.4M418.7 253.9v13.4M412.0 253.9l13.4 13.4M412.0 267.3l13.4 -13.4M412.0 262.5h13.4M418.7 255.8v13.4M412.0 255.8l13.4 13.4M412.0 269.2l13.4 -13.4M412.0 264.7h13.4M418.7 258.0v13.4M412.0 258.0l13.4 13.4M412.0 271.4l13.4 -13.4M412.0 266.9h13.4M418.7 260.2v13.4M412.0 260.2l13.4 13.4M412.0 273.6l13.4 -13.4M412.0 268.5h13.4M418.7 261.8v13.4M412.0 261.8l13.4 13.4M412.0 275.2l13.4 -13.4M412.0 270.4h13.4M418.7 263.7v13.4M412.0 263.7l13.4 13.4M412.0 277.1l13.4 -13.4M412.0 272.5h13.4M418.7 265.8v13.4M412.0 265.8l13.4 13.4M412.0 279.2l13.4 -13.4M412.0 273.5h13.4M418.7 266.8v13.4M412.0 266.8l13.4 13.4M412.0 280.2l13.4 -13.4M412.0 275.4h13.4M418.7 268.7v13.4M412.0 268.7l13.4 13.4M412.0 282.1l13.4 -13.4M412.0 277.7h13.4M418.7 271.0v13.4M412.0 271.0l13.4 13.4M412.0 284.4l13.4 -13.4M412.0 279.7h13.4M418.7 273.0v13.4M412.0 273.0l13.4 13.4M412.0 286.4l13.4 -13.4M412.0 281.8h13.4M418.7 275.1v13.4M412.0 275.1l13.4 13.4M412.0 288.5l13.4 -13.4M412.0 283.4h13.4M418.7 276.7v13.4M412.0 276.7l13.4 13.4M412.0 290.1l13.4 -13.4M412.0 284.6h13.4M418.7 277.9v13.4M412.0 277.9l13.4 13.4M412.0 291.3l13.4 -13.4M412.0 286.6h13.4M418.7 279.9v13.4M412.0 279.9l13.4 13.4M412.0 293.3l13.4 -13.4M412.0 286.7h13.4M418.7 280.0v13.4M412.0 280.0l13.4 13.4M412.0 293.4l13.4 -13.4M412.0 290.7h13.4M418.7 284.0v13.4M412.0 284.0l13.4 13.4M412.0 297.4l13.4 -13.4M412.0 294.7h13.4M418.7 288.0v13.4M412.0 288.0l13.4 13.4M412.0 301.4l13.4 -13.4M412.0 300.0h13.4M418.7 293.3v13.4M412.0 293.3l13.4 13.4M412.0 306.7l13.4 -13.4M412.0 306.6h13.4M418.7 299.9v13.4M412.0 299.9l13.4 13.4M412.0 313.3l13.4 -13.4M449.5 155.6h13.4M456.2 148.9v13.4M449.5 148.9l13.4 13.4M449.5 162.3l13.4 -13.4M449.5 181.6h13.4M456.2 174.9v13.4M449.5 174.9l13.4 13.4M449.5 188.3l13.4 -13.4M449.5 186.9h13.4M456.2 180.2v13.4M449.5 180.2l13.4 13.4M449.5 193.6l13.4 -13.4M449.5 191.8h13.4M456.2 185.1v13.4M449.5 185.1l13.4 13.4M449.5 198.5l13.4 -13.4M449.5 194.2h13.4M456.2 187.5v13.4M449.5 187.5l13.4 13.4M449.5 200.9l13.4 -13.4M449.5 197.0h13.4M456.2 190.3v13.4M449.5 190.3l13.4 13.4M449.5 203.7l13.4 -13.4M449.5 198.7h13.4M456.2 192.0v13.4M449.5 192.0l13.4 13.4M449.5 205.4l13.4 -13.4M449.5 200.4h13.4M456.2 193.7v13.4M449.5 193.7l13.4 13.4M449.5 207.1l13.4 -13.4M449.5 203.1h13.4M456.2 196.4v13.4M449.5 196.4l13.4 13.4M449.5 209.8l13.4 -13.4M449.5 205.4h13.4M456.2 198.7v13.4M449.5 198.7l13.4 13.4M449.5 212.1l13.4 -13.4M449.5 206.7h13.4M456.2 200.0v13.4M449.5 200.0l13.4 13.4M449.5 213.4l13.4 -13.4M449.5 208.0h13.4M456.2 201.3v13.4M449.5 201.3l13.4 13.4M449.5 214.7l13.4 -13.4M449.5 209.2h13.4M456.2 202.5v13.4M449.5 202.5l13.4 13.4M449.5 215.9l13.4 -13.4M449.5 211.9h13.4M456.2 205.2v13.4M449.5 205.2l13.4 13.4M449.5 218.6l13.4 -13.4M449.5 214.3h13.4M456.2 207.6v13.4M449.5 207.6l13.4 13.4M449.5 221.0l13.4 -13.4M449.5 215.6h13.4M456.2 208.9v13.4M449.5 208.9l13.4 13.4M449.5 222.3l13.4 -13.4M449.5 218.1h13.4M456.2 211.4v13.4M449.5 211.4l13.4 13.4M449.5 224.8l13.4 -13.4M449.5 220.8h13.4M456.2 214.1v13.4M449.5 214.1l13.4 13.4M449.5 227.5l13.4 -13.4M449.5 223.0h13.4M456.2 216.3v13.4M449.5 216.3l13.4 13.4M449.5 229.7l13.4 -13.4M449.5 224.7h13.4M456.2 218.0v13.4M449.5 218.0l13.4 13.4M449.5 231.4l13.4 -13.4M449.5 226.6h13.4M456.2 219.9v13.4M449.5 219.9l13.4 13.4M449.5 233.3l13.4 -13.4M449.5 227.9h13.4M456.2 221.2v13.4M449.5 221.2l13.4 13.4M449.5 234.6l13.4 -13.4M449.5 228.9h13.4M456.2 222.2v13.4M449.5 222.2l13.4 13.4M449.5 235.6l13.4 -13.4M449.5 231.6h13.4M456.2 224.9v13.4M449.5 224.9l13.4 13.4M449.5 238.3l13.4 -13.4M449.5 233.8h13.4M456.2 227.1v13.4M449.5 227.1l13.4 13.4M449.5 240.5l13.4 -13.4M449.5 235.8h13.4M456.2 229.1v13.4M449.5 229.1l13.4 13.4M449.5 242.5l13.4 -13.4M449.5 238.4h13.4M456.2 231.7v13.4M449.5 231.7l13.4 13.4M449.5 245.1l13.4 -13.4M449.5 240.2h13.4M456.2 233.5v13.4M449.5 233.5l13.4 13.4M449.5 246.9l13.4 -13.4M449.5 242.8h13.4M456.2 236.1v13.4M449.5 236.1l13.4 13.4M449.5 249.5l13.4 -13.4M449.5 245.3h13.4M456.2 238.6v13.4M449.5 238.6l13.4 13.4M449.5 252.0l13.4 -13.4M449.5 246.7h13.4M456.2 240.0v13.4M449.5 240.0l13.4 13.4M449.5 253.4l13.4 -13.4M449.5 248.1h13.4M456.2 241.4v13.4M449.5 241.4l13.4 13.4M449.5 254.8l13.4 -13.4M449.5 249.6h13.4M456.2 242.9v13.4M449.5 242.9l13.4 13.4M449.5 256.3l13.4 -13.4M449.5 251.1h13.4M456.2 244.4v13.4M449.5 244.4l13.4 13.4M449.5 257.8l13.4 -13.4M449.5 253.1h13.4M456.2 246.4v13.4M449.5 246.4l13.4 13.4M449.5 259.8l13.4 -13.4M449.5 254.6h13.4M456.2 247.9v13.4M449.5 247.9l13.4 13.4M449.5 261.3l13.4 -13.4M449.5 256.4h13.4M456.2 249.7v13.4M449.5 249.7l13.4 13.4M449.5 263.1l13.4 -13.4M449.5 257.6h13.4M456.2 250.9v13.4M449.5 250.9l13.4 13.4M449.5 264.3l13.4 -13.4M449.5 260.2h13.4M456.2 253.5v13.4M449.5 253.5l13.4 13.4M449.5 266.9l13.4 -13.4M449.5 261.9h13.4M456.2 255.2v13.4M449.5 255.2l13.4 13.4M449.5 268.6l13.4 -13.4M449.5 263.7h13.4M456.2 257.0v13.4M449.5 257.0l13.4 13.4M449.5 270.4l13.4 -13.4M449.5 265.7h13.4M456.2 259.0v13.4M449.5 259.0l13.4 13.4M449.5 272.4l13.4 -13.4M449.5 268.4h13.4M456.2 261.7v13.4M449.5 261.7l13.4 13.4M449.5 275.1l13.4 -13.4M449.5 270.1h13.4M456.2 263.4v13.4M449.5 263.4l13.4 13.4M449.5 276.8l13.4 -13.4M449.5 272.8h13.4M456.2 266.1v13.4M449.5 266.1l13.4 13.4M449.5 279.5l13.4 -13.4M449.5 273.6h13.4M456.2 266.9v13.4M449.5 266.9l13.4 13.4M449.5 280.3l13.4 -13.4M449.5 279.0h13.4M456.2 272.3v13.4M449.5 272.3l13.4 13.4M449.5 285.7l13.4 -13.4M449.5 284.5h13.4M456.2 277.8v13.4M449.5 277.8l13.4 13.4M449.5 291.2l13.4 -13.4M449.5 289.5h13.4M456.2 282.8v13.4M449.5 282.8l13.4 13.4M449.5 296.2l13.4 -13.4M449.5 294.5h13.4M456.2 287.8v13.4M449.5 287.8l13.4 13.4M449.5 301.2l13.4 -13.4M530.5 112.1h13.4M537.2 105.4v13.4M530.5 105.4l13.4 13.4M530.5 118.8l13.4 -13.4M530.5 125.9h13.4M537.2 119.2v13.4M530.5 119.2l13.4 13.4M530.5 132.6l13.4 -13.4M530.5 131.8h13.4M537.2 125.1v13.4M530.5 125.1l13.4 13.4M530.5 138.5l13.4 -13.4M530.5 137.0h13.4M537.2 130.3v13.4M530.5 130.3l13.4 13.4M530.5 143.7l13.4 -13.4M530.5 139.5h13.4M537.2 132.8v13.4M530.5 132.8l13.4 13.4M530.5 146.2l13.4 -13.4M530.5 142.0h13.4M537.2 135.3v13.4M530.5 135.3l13.4 13.4M530.5 148.7l13.4 -13.4M530.5 143.4h13.4M537.2 136.7v13.4M530.5 136.7l13.4 13.4M530.5 150.1l13.4 -13.4M530.5 145.7h13.4M537.2 139.0v13.4M530.5 139.0l13.4 13.4M530.5 152.4l13.4 -13.4M530.5 147.4h13.4M537.2 140.7v13.4M530.5 140.7l13.4 13.4M530.5 154.1l13.4 -13.4M530.5 148.7h13.4M537.2 142.0v13.4M530.5 142.0l13.4 13.4M530.5 155.4l13.4 -13.4M530.5 151.9h13.4M537.2 145.2v13.4M530.5 145.2l13.4 13.4M530.5 158.6l13.4 -13.4M530.5 153.5h13.4M537.2 146.8v13.4M530.5 146.8l13.4 13.4M530.5 160.2l13.4 -13.4M530.5 155.9h13.4M537.2 149.2v13.4M530.5 149.2l13.4 13.4M530.5 162.6l13.4 -13.4M530.5 158.9h13.4M537.2 152.2v13.4M530.5 152.2l13.4 13.4M530.5 165.6l13.4 -13.4M530.5 161.5h13.4M537.2 154.8v13.4M530.5 154.8l13.4 13.4M530.5 168.2l13.4 -13.4M530.5 163.5h13.4M537.2 156.8v13.4M530.5 156.8l13.4 13.4M530.5 170.2l13.4 -13.4M530.5 166.0h13.4M537.2 159.3v13.4M530.5 159.3l13.4 13.4M530.5 172.7l13.4 -13.4M530.5 168.6h13.4M537.2 161.9v13.4M530.5 161.9l13.4 13.4M530.5 175.3l13.4 -13.4M530.5 171.7h13.4M537.2 165.0v13.4M530.5 165.0l13.4 13.4M530.5 178.4l13.4 -13.4M530.5 173.3h13.4M537.2 166.6v13.4M530.5 166.6l13.4 13.4M530.5 180.0l13.4 -13.4M530.5 175.8h13.4M537.2 169.1v13.4M530.5 169.1l13.4 13.4M530.5 182.5l13.4 -13.4M530.5 177.7h13.4M537.2 171.0v13.4M530.5 171.0l13.4 13.4M530.5 184.4l13.4 -13.4M530.5 179.6h13.4M537.2 172.9v13.4M530.5 172.9l13.4 13.4M530.5 186.3l13.4 -13.4M530.5 182.7h13.4M537.2 176.0v13.4M530.5 176.0l13.4 13.4M530.5 189.4l13.4 -13.4M530.5 185.2h13.4M537.2 178.5v13.4M530.5 178.5l13.4 13.4M530.5 191.9l13.4 -13.4M530.5 187.8h13.4M537.2 181.1v13.4M530.5 181.1l13.4 13.4M530.5 194.5l13.4 -13.4M530.5 190.8h13.4M537.2 184.1v13.4M530.5 184.1l13.4 13.4M530.5 197.5l13.4 -13.4M530.5 194.2h13.4M537.2 187.5v13.4M530.5 187.5l13.4 13.4M530.5 200.9l13.4 -13.4M530.5 196.6h13.4M537.2 189.9v13.4M530.5 189.9l13.4 13.4M530.5 203.3l13.4 -13.4M530.5 199.3h13.4M537.2 192.6v13.4M530.5 192.6l13.4 13.4M530.5 206.0l13.4 -13.4M530.5 201.7h13.4M537.2 195.0v13.4M530.5 195.0l13.4 13.4M530.5 208.4l13.4 -13.4M530.5 204.2h13.4M537.2 197.5v13.4M530.5 197.5l13.4 13.4M530.5 210.9l13.4 -13.4M530.5 207.1h13.4M537.2 200.4v13.4M530.5 200.4l13.4 13.4M530.5 213.8l13.4 -13.4M530.5 209.4h13.4M537.2 202.7v13.4M530.5 202.7l13.4 13.4M530.5 216.1l13.4 -13.4M530.5 212.0h13.4M537.2 205.3v13.4M530.5 205.3l13.4 13.4M530.5 218.7l13.4 -13.4M530.5 214.4h13.4M537.2 207.7v13.4M530.5 207.7l13.4 13.4M530.5 221.1l13.4 -13.4M530.5 217.8h13.4M537.2 211.1v13.4M530.5 211.1l13.4 13.4M530.5 224.5l13.4 -13.4M530.5 220.7h13.4M537.2 214.0v13.4M530.5 214.0l13.4 13.4M530.5 227.4l13.4 -13.4M530.5 223.0h13.4M537.2 216.3v13.4M530.5 216.3l13.4 13.4M530.5 229.7l13.4 -13.4M530.5 225.8h13.4M537.2 219.1v13.4M530.5 219.1l13.4 13.4M530.5 232.5l13.4 -13.4M530.5 232.6h13.4M537.2 225.9v13.4M530.5 225.9l13.4 13.4M530.5 239.3l13.4 -13.4M530.5 243.0h13.4M537.2 236.3v13.4M530.5 236.3l13.4 13.4M530.5 249.7l13.4 -13.4M530.5 251.5h13.4M537.2 244.8v13.4M530.5 244.8l13.4 13.4M530.5 258.2l13.4 -13.4M530.5 262.7h13.4M537.2 256.0v13.4M530.5 256.0l13.4 13.4M530.5 269.4l13.4 -13.4M530.5 273.2h13.4M537.2 266.5v13.4M530.5 266.5l13.4 13.4M530.5 279.9l13.4 -13.4M559.6 102.2h13.4M566.3 95.5v13.4M559.6 95.5l13.4 13.4M559.6 108.9l13.4 -13.4M559.6 107.5h13.4M566.3 100.8v13.4M559.6 100.8l13.4 13.4M559.6 114.2l13.4 -13.4M559.6 117.3h13.4M566.3 110.6v13.4M559.6 110.6l13.4 13.4M559.6 124.0l13.4 -13.4M559.6 129.8h13.4M566.3 123.1v13.4M559.6 123.1l13.4 13.4M559.6 136.5l13.4 -13.4M559.6 133.0h13.4M566.3 126.3v13.4M559.6 126.3l13.4 13.4M559.6 139.7l13.4 -13.4M559.6 136.5h13.4M566.3 129.8v13.4M559.6 129.8l13.4 13.4M559.6 143.2l13.4 -13.4M559.6 138.4h13.4M566.3 131.7v13.4M559.6 131.7l13.4 13.4M559.6 145.1l13.4 -13.4M559.6 141.0h13.4M566.3 134.3v13.4M559.6 134.3l13.4 13.4M559.6 147.7l13.4 -13.4M559.6 144.4h13.4M566.3 137.7v13.4M559.6 137.7l13.4 13.4M559.6 151.1l13.4 -13.4M559.6 147.7h13.4M566.3 141.0v13.4M559.6 141.0l13.4 13.4M559.6 154.4l13.4 -13.4M559.6 149.3h13.4M566.3 142.6v13.4M559.6 142.6l13.4 13.4M559.6 156.0l13.4 -13.4M559.6 150.8h13.4M566.3 144.1v13.4M559.6 144.1l13.4 13.4M559.6 157.5l13.4 -13.4M559.6 153.2h13.4M566.3 146.5v13.4M559.6 146.5l13.4 13.4M559.6 159.9l13.4 -13.4M559.6 154.6h13.4M566.3 147.9v13.4M559.6 147.9l13.4 13.4M559.6 161.3l13.4 -13.4M559.6 156.5h13.4M566.3 149.8v13.4M559.6 149.8l13.4 13.4M559.6 163.2l13.4 -13.4M559.6 158.0h13.4M566.3 151.3v13.4M559.6 151.3l13.4 13.4M559.6 164.7l13.4 -13.4M559.6 160.8h13.4M566.3 154.1v13.4M559.6 154.1l13.4 13.4M559.6 167.5l13.4 -13.4M559.6 163.9h13.4M566.3 157.2v13.4M559.6 157.2l13.4 13.4M559.6 170.6l13.4 -13.4M559.6 167.3h13.4M566.3 160.6v13.4M559.6 160.6l13.4 13.4M559.6 174.0l13.4 -13.4M559.6 168.9h13.4M566.3 162.2v13.4M559.6 162.2l13.4 13.4M559.6 175.6l13.4 -13.4M559.6 171.9h13.4M566.3 165.2v13.4M559.6 165.2l13.4 13.4M559.6 178.6l13.4 -13.4M559.6 174.7h13.4M566.3 168.0v13.4M559.6 168.0l13.4 13.4M559.6 181.4l13.4 -13.4M559.6 176.3h13.4M566.3 169.6v13.4M559.6 169.6l13.4 13.4M559.6 183.0l13.4 -13.4M559.6 179.6h13.4M566.3 172.9v13.4M559.6 172.9l13.4 13.4M559.6 186.3l13.4 -13.4M559.6 183.2h13.4M566.3 176.5v13.4M559.6 176.5l13.4 13.4M559.6 189.9l13.4 -13.4M559.6 185.0h13.4M566.3 178.3v13.4M559.6 178.3l13.4 13.4M559.6 191.7l13.4 -13.4M559.6 188.5h13.4M566.3 181.8v13.4M559.6 181.8l13.4 13.4M559.6 195.2l13.4 -13.4M559.6 190.7h13.4M566.3 184.0v13.4M559.6 184.0l13.4 13.4M559.6 197.4l13.4 -13.4M559.6 193.1h13.4M566.3 186.4v13.4M559.6 186.4l13.4 13.4M559.6 199.8l13.4 -13.4M559.6 196.7h13.4M566.3 190.0v13.4M559.6 190.0l13.4 13.4M559.6 203.4l13.4 -13.4M559.6 199.9h13.4M566.3 193.2v13.4M559.6 193.2l13.4 13.4M559.6 206.6l13.4 -13.4M559.6 201.6h13.4M566.3 194.9v13.4M559.6 194.9l13.4 13.4M559.6 208.3l13.4 -13.4M559.6 203.9h13.4M566.3 197.2v13.4M559.6 197.2l13.4 13.4M559.6 210.6l13.4 -13.4M559.6 206.3h13.4M566.3 199.6v13.4M559.6 199.6l13.4 13.4M559.6 213.0l13.4 -13.4M559.6 208.4h13.4M566.3 201.7v13.4M559.6 201.7l13.4 13.4M559.6 215.1l13.4 -13.4M559.6 210.2h13.4M566.3 203.5v13.4M559.6 203.5l13.4 13.4M559.6 216.9l13.4 -13.4M559.6 212.2h13.4M566.3 205.5v13.4M559.6 205.5l13.4 13.4M559.6 218.9l13.4 -13.4M559.6 215.2h13.4M566.3 208.5v13.4M559.6 208.5l13.4 13.4M559.6 221.9l13.4 -13.4M559.6 216.5h13.4M566.3 209.8v13.4M559.6 209.8l13.4 13.4M559.6 223.2l13.4 -13.4M559.6 219.1h13.4M566.3 212.4v13.4M559.6 212.4l13.4 13.4M559.6 225.8l13.4 -13.4M559.6 220.3h13.4M566.3 213.6v13.4M559.6 213.6l13.4 13.4M559.6 227.0l13.4 -13.4M559.6 224.0h13.4M566.3 217.3v13.4M559.6 217.3l13.4 13.4M559.6 230.7l13.4 -13.4M559.6 228.8h13.4M566.3 222.1v13.4M559.6 222.1l13.4 13.4M559.6 235.5l13.4 -13.4M559.6 233.6h13.4M566.3 226.9v13.4M559.6 226.9l13.4 13.4M559.6 240.3l13.4 -13.4M559.6 237.2h13.4M566.3 230.5v13.4M559.6 230.5l13.4 13.4M559.6 243.9l13.4 -13.4M621.6 41.4h13.4M628.3 34.7v13.4M621.6 34.7l13.4 13.4M621.6 48.1l13.4 -13.4M621.6 48.5h13.4M628.3 41.8v13.4M621.6 41.8l13.4 13.4M621.6 55.2l13.4 -13.4M621.6 68.3h13.4M628.3 61.6v13.4M621.6 61.6l13.4 13.4M621.6 75.0l13.4 -13.4M621.6 70.0h13.4M628.3 63.3v13.4M621.6 63.3l13.4 13.4M621.6 76.7l13.4 -13.4M621.6 71.0h13.4M628.3 64.3v13.4M621.6 64.3l13.4 13.4M621.6 77.7l13.4 -13.4M621.6 72.8h13.4M628.3 66.1v13.4M621.6 66.1l13.4 13.4M621.6 79.5l13.4 -13.4M621.6 75.1h13.4M628.3 68.4v13.4M621.6 68.4l13.4 13.4M621.6 81.8l13.4 -13.4M621.6 77.3h13.4M628.3 70.6v13.4M621.6 70.6l13.4 13.4M621.6 84.0l13.4 -13.4M621.6 78.4h13.4M628.3 71.7v13.4M621.6 71.7l13.4 13.4M621.6 85.1l13.4 -13.4M621.6 81.6h13.4M628.3 74.9v13.4M621.6 74.9l13.4 13.4M621.6 88.3l13.4 -13.4M621.6 84.3h13.4M628.3 77.6v13.4M621.6 77.6l13.4 13.4M621.6 91.0l13.4 -13.4M621.6 87.4h13.4M628.3 80.7v13.4M621.6 80.7l13.4 13.4M621.6 94.1l13.4 -13.4M621.6 88.7h13.4M628.3 82.0v13.4M621.6 82.0l13.4 13.4M621.6 95.4l13.4 -13.4M621.6 90.3h13.4M628.3 83.6v13.4M621.6 83.6l13.4 13.4M621.6 97.0l13.4 -13.4M621.6 91.4h13.4M628.3 84.7v13.4M621.6 84.7l13.4 13.4M621.6 98.1l13.4 -13.4M621.6 94.1h13.4M628.3 87.4v13.4M621.6 87.4l13.4 13.4M621.6 100.8l13.4 -13.4M621.6 95.7h13.4M628.3 89.0v13.4M621.6 89.0l13.4 13.4M621.6 102.4l13.4 -13.4M621.6 96.9h13.4M628.3 90.2v13.4M621.6 90.2l13.4 13.4M621.6 103.6l13.4 -13.4M621.6 98.9h13.4M628.3 92.2v13.4M621.6 92.2l13.4 13.4M621.6 105.6l13.4 -13.4M621.6 101.9h13.4M628.3 95.2v13.4M621.6 95.2l13.4 13.4M621.6 108.6l13.4 -13.4M621.6 104.7h13.4M628.3 98.0v13.4M621.6 98.0l13.4 13.4M621.6 111.4l13.4 -13.4M621.6 106.2h13.4M628.3 99.5v13.4M621.6 99.5l13.4 13.4M621.6 112.9l13.4 -13.4M621.6 107.6h13.4M628.3 100.9v13.4M621.6 100.9l13.4 13.4M621.6 114.3l13.4 -13.4M621.6 110.6h13.4M628.3 103.9v13.4M621.6 103.9l13.4 13.4M621.6 117.3l13.4 -13.4M621.6 112.9h13.4M628.3 106.2v13.4M621.6 106.2l13.4 13.4M621.6 119.6l13.4 -13.4M621.6 115.4h13.4M628.3 108.7v13.4M621.6 108.7l13.4 13.4M621.6 122.1l13.4 -13.4M621.6 116.6h13.4M628.3 109.9v13.4M621.6 109.9l13.4 13.4M621.6 123.3l13.4 -13.4M621.6 117.7h13.4M628.3 111.0v13.4M621.6 111.0l13.4 13.4M621.6 124.4l13.4 -13.4M621.6 120.2h13.4M628.3 113.5v13.4M621.6 113.5l13.4 13.4M621.6 126.9l13.4 -13.4M621.6 122.2h13.4M628.3 115.5v13.4M621.6 115.5l13.4 13.4M621.6 128.9l13.4 -13.4M621.6 123.3h13.4M628.3 116.6v13.4M621.6 116.6l13.4 13.4M621.6 130.0l13.4 -13.4M621.6 126.4h13.4M628.3 119.7v13.4M621.6 119.7l13.4 13.4M621.6 133.1l13.4 -13.4M621.6 128.8h13.4M628.3 122.1v13.4M621.6 122.1l13.4 13.4M621.6 135.5l13.4 -13.4M621.6 131.6h13.4M628.3 124.9v13.4M621.6 124.9l13.4 13.4M621.6 138.3l13.4 -13.4M621.6 132.7h13.4M628.3 126.0v13.4M621.6 126.0l13.4 13.4M621.6 139.4l13.4 -13.4M621.6 135.6h13.4M628.3 128.9v13.4M621.6 128.9l13.4 13.4M621.6 142.3l13.4 -13.4M621.6 136.8h13.4M628.3 130.1v13.4M621.6 130.1l13.4 13.4M621.6 143.5l13.4 -13.4M621.6 139.7h13.4M628.3 133.0v13.4M621.6 133.0l13.4 13.4M621.6 146.4l13.4 -13.4M621.6 141.7h13.4M628.3 135.0v13.4M621.6 135.0l13.4 13.4M621.6 148.4l13.4 -13.4M621.6 143.4h13.4M628.3 136.7v13.4M621.6 136.7l13.4 13.4M621.6 150.1l13.4 -13.4M621.6 145.6h13.4M628.3 138.9v13.4M621.6 138.9l13.4 13.4M621.6 152.3l13.4 -13.4M621.6 148.7h13.4M628.3 142.0v13.4M621.6 142.0l13.4 13.4M621.6 155.4l13.4 -13.4M621.6 150.3h13.4M628.3 143.6v13.4M621.6 143.6l13.4 13.4M621.6 157.0l13.4 -13.4M621.6 151.5h13.4M628.3 144.8v13.4M621.6 144.8l13.4 13.4M621.6 158.2l13.4 -13.4M621.6 153.7h13.4M628.3 147.0v13.4M621.6 147.0l13.4 13.4M621.6 160.4l13.4 -13.4M621.6 155.2h13.4M628.3 148.5v13.4M621.6 148.5l13.4 13.4M621.6 161.9l13.4 -13.4M621.6 156.5h13.4M628.3 149.8v13.4M621.6 149.8l13.4 13.4M621.6 163.2l13.4 -13.4M621.6 157.8h13.4M628.3 151.1v13.4M621.6 151.1l13.4 13.4M621.6 164.5l13.4 -13.4M621.6 158.4h13.4M628.3 151.7v13.4M621.6 151.7l13.4 13.4M621.6 165.1l13.4 -13.4M621.6 161.2h13.4M628.3 154.5v13.4M621.6 154.5l13.4 13.4M621.6 167.9l13.4 -13.4M621.6 166.2h13.4M628.3 159.5v13.4M621.6 159.5l13.4 13.4M621.6 172.9l13.4 -13.4M621.6 170.0h13.4M628.3 163.3v13.4M621.6 163.3l13.4 13.4M621.6 176.7l13.4 -13.4M621.6 178.2h13.4M628.3 171.5v13.4M621.6 171.5l13.4 13.4M621.6 184.9l13.4 -13.4M621.6 191.6h13.4M628.3 184.9v13.4M621.6 184.9l13.4 13.4M621.6 198.3l13.4 -13.4M621.6 196.6h13.4M628.3 189.9v13.4M621.6 189.9l13.4 13.4M621.6 203.3l13.4 -13.4" stroke="#000" stroke-width="1.25" fill="none"/>
<polyline points="142.3,396.8 208.9,393.7 269.2,387.0 321.1,363.6 341.7,342.5 383.6,291 418.7,254 456.2,238.7 537.2,188.3 566.3,183.7 628.3,117.3" fill="none" stroke="#ae3f18" stroke-width="3.8" stroke-linejoin="round" stroke-linecap="round"/>
<polyline points="142.3,395.6 208.9,394.0 269.2,394.2 321.1,394.4 341.7,394.2 383.6,391.8 418.7,397.0 456.2,391.6 537.2,397.0 566.3,393.2 628.3,393.5" fill="none" stroke="#7be24d" stroke-width="3.9" stroke-linejoin="round" stroke-linecap="round"/>
<path d="M88.9 432.9V5.8H669.6V432.9Z" fill="none" stroke="#000" stroke-width="2.1" stroke-linejoin="round"/>
<path d="M77.9 421.2H88.9M82.9 397.2H88.9M77.9 373.3H88.9M82.9 349.3H88.9M77.9 325.4H88.9M82.9 301.4H88.9M77.9 277.4H88.9M82.9 253.5H88.9M77.9 229.5H88.9M82.9 205.5H88.9M77.9 181.6H88.9M82.9 157.6H88.9M77.9 133.7H88.9M82.9 109.7H88.9M77.9 85.7H88.9M82.9 61.8H88.9M77.9 37.8H88.9M82.9 13.8H88.9M110.0 432.9v5.5M142.2 432.9v10.5M174.4 432.9v5.5M206.6 432.9v10.5M238.9 432.9v5.5M271.1 432.9v10.5M303.3 432.9v5.5M335.6 432.9v10.5M367.8 432.9v5.5M400.0 432.9v10.5M432.2 432.9v5.5M464.4 432.9v10.5M496.7 432.9v5.5M528.9 432.9v10.5M561.1 432.9v5.5M593.4 432.9v10.5M625.6 432.9v5.5M657.8 432.9v10.5" stroke="#000" stroke-width="2" fill="none"/>
<text x="72.5" y="427.9" text-anchor="end" font-family="Liberation Serif, serif" font-size="19.6" fill="#0a0a0a" stroke="#0a0a0a" stroke-width="0.25">0</text>
<text x="72.5" y="380.0" text-anchor="end" font-family="Liberation Serif, serif" font-size="19.6" fill="#0a0a0a" stroke="#0a0a0a" stroke-width="0.25">2000</text>
<text x="72.5" y="332.1" text-anchor="end" font-family="Liberation Serif, serif" font-size="19.6" fill="#0a0a0a" stroke="#0a0a0a" stroke-width="0.25">4000</text>
<text x="72.5" y="284.1" text-anchor="end" font-family="Liberation Serif, serif" font-size="19.6" fill="#0a0a0a" stroke="#0a0a0a" stroke-width="0.25">6000</text>
<text x="72.5" y="236.2" text-anchor="end" font-family="Liberation Serif, serif" font-size="19.6" fill="#0a0a0a" stroke="#0a0a0a" stroke-width="0.25">8000</text>
<text x="72.5" y="188.3" text-anchor="end" font-family="Liberation Serif, serif" font-size="19.6" fill="#0a0a0a" stroke="#0a0a0a" stroke-width="0.25">10000</text>
<text x="72.5" y="140.4" text-anchor="end" font-family="Liberation Serif, serif" font-size="19.6" fill="#0a0a0a" stroke="#0a0a0a" stroke-width="0.25">12000</text>
<text x="72.5" y="92.4" text-anchor="end" font-family="Liberation Serif, serif" font-size="19.6" fill="#0a0a0a" stroke="#0a0a0a" stroke-width="0.25">14000</text>
<text x="72.5" y="44.5" text-anchor="end" font-family="Liberation Serif, serif" font-size="19.6" fill="#0a0a0a" stroke="#0a0a0a" stroke-width="0.25">16000</text>
<text x="142.2" y="464.5" text-anchor="middle" font-family="Liberation Serif, serif" font-size="19.6" fill="#0a0a0a" stroke="#0a0a0a" stroke-width="0.25">0</text>
<text x="206.6" y="464.5" text-anchor="middle" font-family="Liberation Serif, serif" font-size="19.6" fill="#0a0a0a" stroke="#0a0a0a" stroke-width="0.25">5</text>
<text x="271.1" y="464.5" text-anchor="middle" font-family="Liberation Serif, serif" font-size="19.6" fill="#0a0a0a" stroke="#0a0a0a" stroke-width="0.25">10</text>
<text x="335.6" y="464.5" text-anchor="middle" font-family="Liberation Serif, serif" font-size="19.6" fill="#0a0a0a" stroke="#0a0a0a" stroke-width="0.25">15</text>
<text x="400.0" y="464.5" text-anchor="middle" font-family="Liberation Serif, serif" font-size="19.6" fill="#0a0a0a" stroke="#0a0a0a" stroke-width="0.25">20</text>
<text x="464.4" y="464.5" text-anchor="middle" font-family="Liberation Serif, serif" font-size="19.6" fill="#0a0a0a" stroke="#0a0a0a" stroke-width="0.25">25</text>
<text x="528.9" y="464.5" text-anchor="middle" font-family="Liberation Serif, serif" font-size="19.6" fill="#0a0a0a" stroke="#0a0a0a" stroke-width="0.25">30</text>
<text x="593.4" y="464.5" text-anchor="middle" font-family="Liberation Serif, serif" font-size="19.6" fill="#0a0a0a" stroke="#0a0a0a" stroke-width="0.25">35</text>
<text x="657.8" y="464.5" text-anchor="middle" font-family="Liberation Serif, serif" font-size="19.6" fill="#0a0a0a" stroke="#0a0a0a" stroke-width="0.25">40</text>
<text x="268" y="486.7" font-family="Liberation Serif, serif" font-size="19.8" fill="#0a0a0a" stroke="#0a0a0a" stroke-width="0.25">Velocity of carrier gas/ m·s<tspan dy="-10.3" font-size="11.5">-1</tspan></text>
<text transform="translate(18.7 324.6) rotate(-90)" font-family="Liberation Serif, serif" font-size="19.8" fill="#0a0a0a" stroke="#0a0a0a" stroke-width="0.25">Scattering intensity/counts</text>
</svg></body></html>
